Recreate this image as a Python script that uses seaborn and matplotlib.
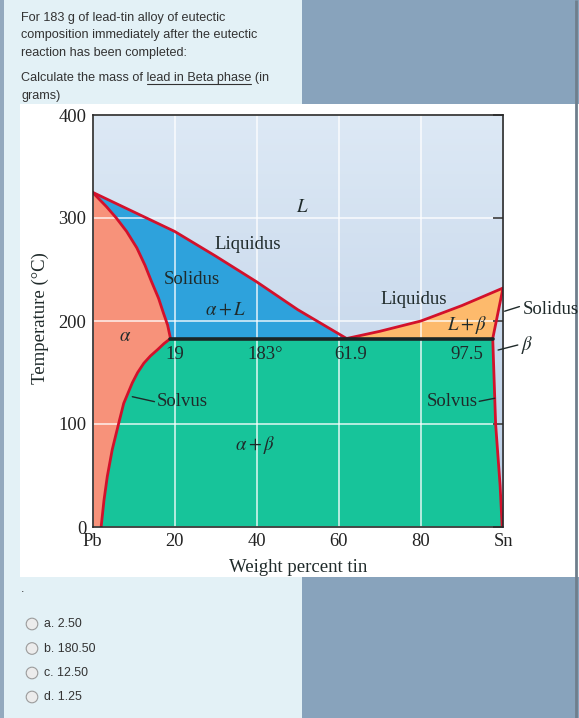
import numpy as np
import matplotlib
matplotlib.use("Agg")
import matplotlib.pyplot as plt
import seaborn as sns
from matplotlib.patches import Rectangle, Circle
from matplotlib.colors import LinearSegmentedColormap

# ---------------- data ----------------
question_lines = [
    "For 183 g of lead-tin alloy of eutectic",
    "composition immediately after the eutectic",
    "reaction has been completed:",
]
question_pre = "Calculate the mass of"
question_underlined = "lead in Beta phase"
question_post = "(in"
question_last = "grams)"
options = ["a. 2.50", "b. 180.50", "c. 12.50", "d. 1.25"]

liquidus_left_x = [0, 10, 20, 30, 40, 50, 61.9]
liquidus_left_T = [325, 306, 287, 263, 238, 211, 183]
solidus_left_x = [0, 3.4, 5.8, 8.3, 10.8, 12.8, 14.4, 16.1, 17.3, 18.3, 19]
solidus_left_T = [325, 311, 300, 287, 271, 254, 238, 222, 207.5, 196, 183]
solvus_left_x = [19, 17.4, 15.8, 14.1, 12.5, 11.0, 9.7, 7.6, 6.4, 4.8, 3.6, 2.8, 2.1]
solvus_left_T = [183, 178, 172, 166, 159, 150, 140, 120, 101, 75, 49, 26, 0]
liquidus_right_x = [61.9, 70, 80, 90, 100]
liquidus_right_T = [183, 190, 200, 215, 232]
solidus_right_x = [97.5, 100]
solidus_right_T = [183, 232]
solvus_right_x = [97.5, 98.2, 99.3, 99.8]
solvus_right_T = [183, 100, 40, 0]
eutectic_x = [19, 97.5]
eutectic_T = [183, 183]

x_ticks = [0, 20, 40, 60, 80, 100]
x_ticklabels = ["Pb", "20", "40", "60", "80", "Sn"]
x_minor = [10, 30, 50, 70, 90]
y_ticks = [0, 100, 200, 300, 400]

# ---------------- style ----------------
sns.set_style("white")
plt.rcParams["font.family"] = ["Liberation Serif", "DejaVu Serif"]
plt.rcParams["mathtext.fontset"] = "stix"

W, H = 579, 718
fig = plt.figure(figsize=(W / 100, H / 100), dpi=100)

# page background axes in pixel coordinates
bg = fig.add_axes([0, 0, 1, 1], zorder=0)
bg.set_xlim(0, W)
bg.set_ylim(H, 0)
bg.axis("off")

panel = "#e3f1f6"
slate = "#88a3bc"
bg.add_patch(Rectangle((0, 0), W, H, facecolor=slate, edgecolor="none"))
bg.add_patch(Rectangle((4, 0), 298, H, facecolor=panel, edgecolor="none"))
bg.add_patch(Rectangle((0, 0), 4, H, facecolor="#93a9be", edgecolor="none"))
bg.add_patch(Rectangle((20, 104), W - 20, 473, facecolor="white", edgecolor="none"))
bg.plot([575.5, 575.5], [0, H], color="#6f7e8c", lw=2, solid_capstyle="butt")

sans = ["Liberation Sans", "DejaVu Sans"]
qcol = "#333333"
qsize = 9.1
for line, yb in zip(question_lines, [20.7, 38.2, 55.9]):
    bg.text(21, yb, line, fontsize=qsize, family=sans, color=qcol, va="baseline")
full4 = f"{question_pre} {question_underlined} {question_post}"
bg.text(21, 81, full4, fontsize=qsize, family=sans, color=qcol, va="baseline")
bg.text(21, 99.5, question_last, fontsize=qsize, family=sans, color=qcol, va="baseline")

renderer = fig.canvas.get_renderer()
def txt_w(s):
    t = bg.text(0, 0, s, fontsize=qsize, family=sans)
    w = t.get_window_extent(renderer).width
    t.remove()
    return w
sp = txt_w("a a") - txt_w("aa")
u0 = 21 + txt_w(question_pre) + sp
u1 = 21 + txt_w(f"{question_pre} {question_underlined}")
bg.plot([u0, u1], [84, 84], color=qcol, lw=0.8)

bg.text(21, 589, ".", fontsize=qsize, family=sans, color=qcol, va="center")
for opt, yy in zip(options, [624, 648.5, 673, 697]):
    bg.add_patch(Circle((32, yy), 5.8, facecolor="#ececec", edgecolor="#9b9b9b", lw=0.8))
    bg.text(44, yy, opt, fontsize=8.9, family=sans, color=qcol, va="center")

# ---------------- phase diagram ----------------
L_px, R_px, T_px, B_px = 92.5, 503, 115, 527
ax = fig.add_axes([L_px / W, (H - B_px) / H, (R_px - L_px) / W, (B_px - T_px) / H], zorder=1)
ax.patch.set_alpha(0)

grad = LinearSegmentedColormap.from_list("bgL", ["#bacde6", "#dde9f5"])
ax.imshow(np.linspace(1, 0, 256).reshape(-1, 1), cmap=grad, aspect="auto",
          extent=[0, 100, 0, 400], zorder=0, interpolation="bilinear")

red = "#d3112b"
c_alpha = "#f7927a"
c_alphaL = "#2ea2dc"
c_Lbeta = "#fdba6c"
c_ab = "#17c49a"

# alpha region
ax.fill([0] + solidus_left_x + solvus_left_x[1:] + [0],
        [0] + solidus_left_T + solvus_left_T[1:] + [0],
        color=c_alpha, lw=0, zorder=1)
# alpha + L
ax.fill(liquidus_left_x + solidus_left_x[::-1],
        liquidus_left_T + solidus_left_T[::-1],
        color=c_alphaL, lw=0, zorder=1)
# L + beta
ax.fill(liquidus_right_x + solidus_right_x[::-1],
        liquidus_right_T + solidus_right_T[::-1],
        color=c_Lbeta, lw=0, zorder=1)
# alpha + beta
ax.fill(solvus_left_x + solvus_right_x[::-1],
        solvus_left_T + solvus_right_T[::-1],
        color=c_ab, lw=0, zorder=1)

ax.set_axisbelow("line")
ax.grid(True, which="major", color="white", lw=1.2, alpha=0.8)

for xs, ts in [(liquidus_left_x, liquidus_left_T), (solidus_left_x, solidus_left_T),
               (solvus_left_x, solvus_left_T), (liquidus_right_x, liquidus_right_T),
               (solidus_right_x, solidus_right_T), (solvus_right_x, solvus_right_T)]:
    sns.lineplot(x=xs, y=ts, sort=False, estimator=None, color=red, lw=2, ax=ax, zorder=3)
sns.lineplot(x=eutectic_x, y=eutectic_T, sort=False, estimator=None,
             color="#1b2626", lw=2.6, ax=ax, zorder=4)

ax.set_xlim(0, 100)
ax.set_ylim(0, 400)
ax.set_xticks(x_ticks)
ax.set_xticklabels(x_ticklabels)
ax.set_xticks(x_minor, minor=True)
ax.set_yticks(y_ticks)
ax.set_yticklabels([str(v) for v in y_ticks])
ax.tick_params(axis="both", which="both", direction="in", length=7.5, width=1.1,
               color="#2a2a2a", labelsize=13.3, labelcolor="#222222")
ax.tick_params(axis="y", right=True, pad=4.5)
ax.tick_params(axis="x", pad=4)
ax.set_xlabel("")
ax.set_ylabel("")
for s in ax.spines.values():
    s.set_color("#2a2a2a")
    s.set_linewidth(1.2)
    s.set_zorder(5)

tc = "#1f2a2a"
fs = 13.5
def lab(x, y, s, **kw):
    kw.setdefault("ha", "center")
    kw.setdefault("va", "center")
    ax.text(x, y, s, fontsize=fs, color=tc, zorder=6, clip_on=False, **kw)

lab(51.2, 310, "$L$")
lab(37.7, 274, "Liquidus")
lab(24.1, 240, "Solidus")
lab(32.4, 210, r"$\alpha + L$")
lab(8.0, 185, r"$\alpha$")
lab(20.0, 167, "19")
lab(42.0, 167, "183°")
lab(62.8, 167, "61.9")
lab(91.2, 167, "97.5")
lab(78.3, 221, "Liquidus")
lab(91.2, 196, r"$L + \beta$")
lab(39.5, 80, r"$\alpha + \beta$")
lab(15.6, 121.7, "Solvus", ha="left")
lab(93.8, 121.7, "Solvus", ha="right")
lab(104.9, 211, "Solidus", ha="left")
lab(104.3, 176.7, r"$\beta$", ha="left")

leaders = [((9.7, 126.5), (15.1, 121.7)), ((94.2, 122), (98.0, 125)),
           ((100.4, 209.5), (104.0, 214)), ((98.8, 171.8), (103.6, 176.7))]
for (x0, y0), (x1, y1) in leaders:
    ax.plot([x0, x1], [y0, y1], color=tc, lw=1, zorder=6, clip_on=False)

bg.text(298, 567, "Weight percent tin", fontsize=13.5, color=tc, ha="center", va="center")
bg.text(40, 318, "Temperature (°C)", fontsize=13.5, color=tc, ha="center", va="center",
        rotation=90)

fig.savefig("out.png", dpi=100)
